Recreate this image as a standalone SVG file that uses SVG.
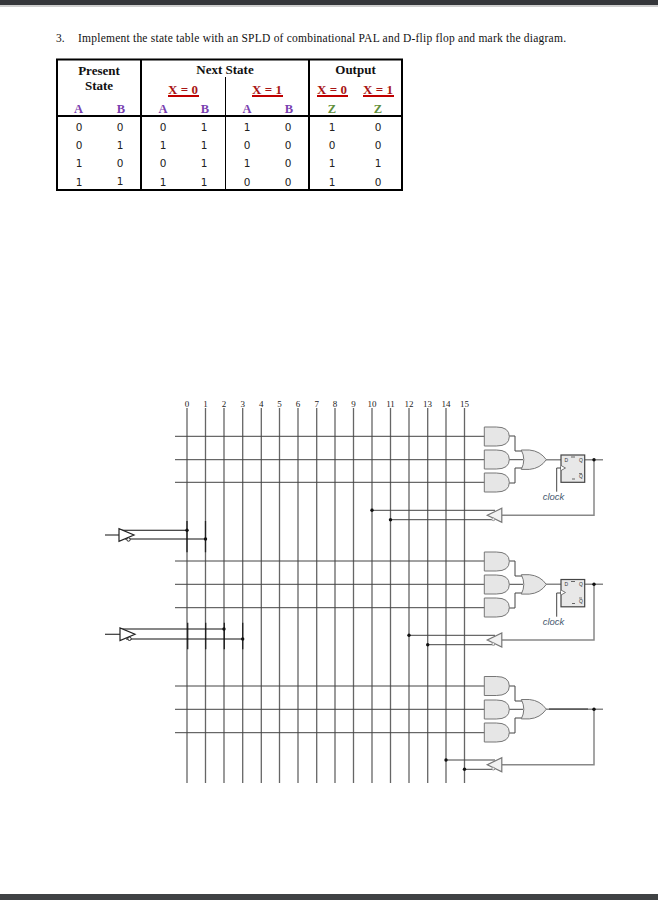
<svg xmlns="http://www.w3.org/2000/svg" width="658" height="900" viewBox="0 0 658 900">
<style>
text{font-family:"Liberation Serif","Times New Roman",serif;fill:#111}
.hd{font-weight:700;font-size:13px;text-anchor:middle;fill:#111}
.a{font-weight:700;font-size:12.5px;text-anchor:middle;fill:#7a3fb0}
.z{font-weight:700;font-size:12.5px;text-anchor:middle;fill:#5f8f3a}
.x{font-weight:700;font-size:13px;text-anchor:middle;fill:#a81414}
.d{font-family:"DejaVu Sans",sans-serif;font-size:10.5px;text-anchor:middle;fill:#222}
.u{stroke:#c00000;stroke-width:2;fill:none}
.t{stroke:#000;fill:none}
.n{font-size:9px;text-anchor:middle;fill:#222}
.v{stroke:#666;stroke-width:1.3;fill:none}
.h{stroke:#444;stroke-width:1;fill:none}
.w{stroke:#111;stroke-width:1.1;fill:none}
.g{stroke:#888;stroke-width:1.5;fill:none}
.b{stroke:#222;stroke-width:1.3;fill:none}
.gate{fill:#e6e6e6;stroke:#777;stroke-width:1}
.ff{fill:#e8e8e8;stroke:#444;stroke-width:1.2}
.fl{font-family:"Liberation Sans",sans-serif;font-size:5px;fill:#333}
.ck{font-family:"Liberation Sans",sans-serif;font-size:9.5px;font-style:italic;text-anchor:middle;fill:#4a5a70}
.buf{fill:#fff;stroke:#222;stroke-width:1.2}
.fb{fill:#f2f2f2;stroke:#777;stroke-width:1.2}
</style>
<defs>
<path id="andg" class="gate" d="M0 0H12Q25 0 25 9.5Q25 19 12 19H0Z"/>
<path id="org" class="gate" d="M0 0H8Q19 1 25 9.700Q19 18.500 8 19.400H0Q5 9.700 0 0Z"/>
<circle id="dot" r="1.7" fill="#111"/>
<g id="fbuf"><path class="fb" d="M14.500 -7V7L0 0Z"/><circle cx="6" cy="4" r="1.400" fill="#eee" stroke="#888" stroke-width=".7"/></g>
<g id="ibuf"><path class="buf" d="M0 -6.300V6.300L15 0Z"/><circle cx="9.500" cy="4.500" r="1.700" fill="#fff" stroke="#222"/></g>
<g id="dff">
<rect class="ff" width="23.700" height="27.300"/>
<text class="fl" x="3.500" y="6.500">D</text><text class="fl" x="18" y="6.500">Q</text><text class="fl" x="18" y="23">Q</text>
<path d="M18 18.500H21" stroke="#333" stroke-width=".6"/>
<path d="M10 2H14M11 24H14" stroke="#666" stroke-width="1"/>
<path d="M0 10.500L4.500 13L0 15.500" fill="#fff" stroke="#555" stroke-width=".8"/>
</g>
</defs>
<g id="page-bars">
<rect width="658" height="5" fill="#35373b"/>
<rect y="5" width="658" height="2" fill="#cfcfcf"/>
<rect y="894" width="658" height="6" fill="#3f4244"/>
</g>
<g id="title">
<text x="56" y="42" font-size="11.500">3.</text>
<text x="78" y="42" font-size="11.500" textLength="488">Implement the state table with an SPLD of combinational PAL and D-flip flop and mark the diagram.</text>
</g>
<g id="state-table">
<rect class="t" x="57" y="59.500" width="345" height="130.500" stroke-width="2"/>
<path class="t" stroke-width="2" d="M141 59.500V190M309 59.500V190M57 116H402"/>
<path class="t" d="M225.500 77V190"/>
<text class="hd" x="99" y="75">Present</text>
<text class="hd" x="99" y="90">State</text>
<text class="hd" x="225" y="74">Next State</text>
<text class="hd" x="355.500" y="74">Output</text>
<text class="x" x="183" y="94">X = 0</text>
<text class="x" x="267" y="94">X = 1</text>
<text class="x" x="332" y="94">X = 0</text>
<text class="x" x="378" y="94">X = 1</text>
<path class="u" d="M168 96H199M252 96H283M317 96H348M363 96H394"/>
<text class="a" x="78.500" y="113">A</text><text class="a" x="121" y="113">B</text>
<text class="a" x="163" y="113">A</text><text class="a" x="205" y="113">B</text>
<text class="a" x="247" y="113">A</text><text class="a" x="289" y="113">B</text>
<text class="z" x="332" y="113">Z</text><text class="z" x="378" y="113">Z</text>
<text class="d" x="79" y="131">0</text><text class="d" x="120" y="131">0</text><text class="d" x="163" y="131">0</text><text class="d" x="204" y="131">1</text><text class="d" x="247" y="131">1</text><text class="d" x="288" y="131">0</text><text class="d" x="332" y="131">1</text><text class="d" x="378" y="131">0</text>
<text class="d" x="79" y="149">0</text><text class="d" x="120" y="149">1</text><text class="d" x="163" y="149">1</text><text class="d" x="204" y="149">1</text><text class="d" x="247" y="149">0</text><text class="d" x="288" y="149">0</text><text class="d" x="332" y="149">0</text><text class="d" x="378" y="149">0</text>
<text class="d" x="79" y="167">1</text><text class="d" x="120" y="167">0</text><text class="d" x="163" y="167">0</text><text class="d" x="204" y="167">1</text><text class="d" x="247" y="167">1</text><text class="d" x="288" y="167">0</text><text class="d" x="332" y="167">1</text><text class="d" x="378" y="167">1</text>
<text class="d" x="79" y="186">1</text><text class="d" x="120" y="185">1</text><text class="d" x="163" y="186">1</text><text class="d" x="204" y="186">1</text><text class="d" x="247" y="186">0</text><text class="d" x="288" y="186">0</text><text class="d" x="332" y="186">1</text><text class="d" x="378" y="186">0</text>
</g>
<g id="column-labels">
<text class="n" x="187" y="407">0</text><text class="n" x="205.500" y="407">1</text><text class="n" x="224" y="407">2</text><text class="n" x="242.700" y="407">3</text><text class="n" x="261.300" y="407">4</text><text class="n" x="279.500" y="407">5</text><text class="n" x="298" y="407">6</text><text class="n" x="316.700" y="407">7</text><text class="n" x="335" y="407">8</text><text class="n" x="353.500" y="407">9</text><text class="n" x="372" y="407">10</text><text class="n" x="390.500" y="407">11</text><text class="n" x="409" y="407">12</text><text class="n" x="427.500" y="407">13</text><text class="n" x="446" y="407">14</text><text class="n" x="464.500" y="407">15</text>
</g>
<g id="connectors">
<path class="v" d="M187 408V783M205.500 408V783M224 408V783M242.700 408V783M261.300 408V783M279.500 408V783M298 408V783M316.700 408V783M335 408V783M353.500 408V783M372 408V783M390.500 408V783M409 408V783M427.700 408V783M446 408V783M464.500 408V783"/>
<path class="h" d="M175 436.300H485M175 459.700H485M175 482.300H485M175 561H485M175 584.300H485M175 607.700H485M175 686H485M175 709.300H485M175 732.700H485"/>
<path class="b" d="M187 521V552.300M205.500 521V552.300M187.700 622.700V649.300M205.700 622.700V649.300M224.300 622.700V649.300M242.700 622.700V649.300"/>
<path class="w" d="M105 535H119M119 530.300H187M125 539H205.500M105 634.300H120M120 629H224M126 639H242.700"/>
<path class="h" d="M372 510.300H495M390.500 519.700H495M409 635.300H495M427.700 644.700H495M446 760H495M464.500 769.300H495"/>
<path class="h" stroke="#666" d="M509 436H515V451H523M509 459.700H523M509 483H515V468H523M509 561H515V576H523M509 584.300H523M509 608H515V593H523M509 686H515V701H523M509 709.300H523M509 733H515V718H523"/>
<path class="g" d="M546 459.700H561M584.700 459.700H603M594 459.700V515.300H501.700M546 584.300H561M584.700 584.300H603M594 584.300V640H501.700M546 709.300H603M594 709.300V764.700H501.700"/>
<path d="M549 709H588" stroke="#333" stroke-width="1.200" fill="none"/>
<path class="h" stroke="#666" d="M556.700 491.700V468H561M556.700 616.700V593H561"/>
</g>
<g id="buffers">
<use href="#ibuf" x="119" y="535"/>
<use href="#ibuf" x="120" y="634.300"/>
<use href="#fbuf" x="487.300" y="515.300"/>
<use href="#fbuf" x="487.300" y="640"/>
<use href="#fbuf" x="487.300" y="764.700"/>
</g>
<g id="dots">
<use href="#dot" x="187" y="530.300"/><use href="#dot" x="205.500" y="539"/>
<use href="#dot" x="224" y="629"/><use href="#dot" x="242.700" y="639"/>
<use href="#dot" x="372" y="510.300"/><use href="#dot" x="390.500" y="519.700"/>
<use href="#dot" x="409" y="635.300"/><use href="#dot" x="427.700" y="644.700"/>
<use href="#dot" x="446" y="760"/><use href="#dot" x="464.500" y="769.300"/>
<use href="#dot" x="594" y="459.700"/><use href="#dot" x="594" y="584.300"/><use href="#dot" x="594" y="709.300"/>
</g>
<g id="and-gates">
<use href="#andg" x="484.300" y="427"/><use href="#andg" x="484.300" y="450"/><use href="#andg" x="484.300" y="473"/>
<use href="#andg" x="484.300" y="552"/><use href="#andg" x="484.300" y="575"/><use href="#andg" x="484.300" y="598"/>
<use href="#andg" x="484.300" y="676.500"/><use href="#andg" x="484.300" y="700"/><use href="#andg" x="484.300" y="723"/>
</g>
<g id="or-gates">
<use href="#org" x="521.300" y="450"/><use href="#org" x="521.300" y="574.700"/><use href="#org" x="521.300" y="699.500"/>
</g>
<g id="flip-flop-1"><use href="#dff" x="561" y="455"/><text class="ck" x="553.500" y="499.500">clock</text></g>
<g id="flip-flop-2"><use href="#dff" x="561" y="579.500"/><text class="ck" x="553.500" y="624.500">clock</text></g>
</svg>
